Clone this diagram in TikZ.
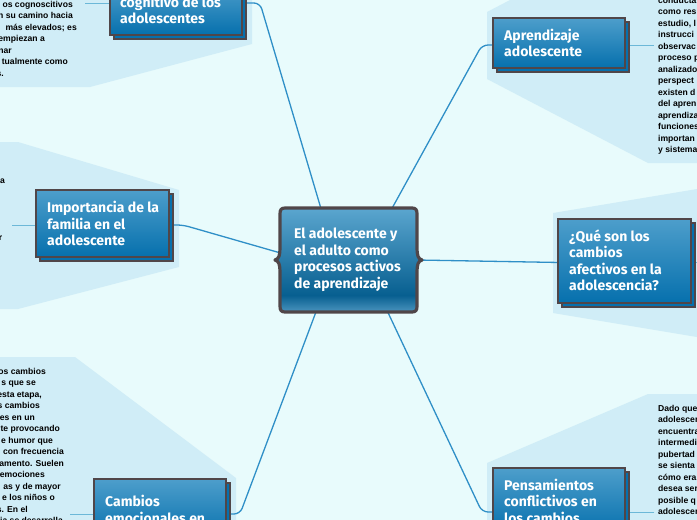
\documentclass[tikz,border=0pt]{standalone}
\usepackage{fontspec}
\setmainfont{Fira Sans}
\newfontfamily\leaffont{Liberation Sans}
\usetikzlibrary{backgrounds,shadows}
\definecolor{bgc}{HTML}{E8FBFC}
\definecolor{panelc}{HTML}{D0EDF7}
\definecolor{edgec}{HTML}{504649}
\definecolor{boxtop}{HTML}{4D9ECB}
\definecolor{boxbot}{HTML}{0670AD}
\definecolor{trunkc}{HTML}{2F8FC7}
\definecolor{leafc}{HTML}{6CB8D8}
\definecolor{rootlow}{HTML}{4A94BE}
\definecolor{rootdark}{HTML}{075F90}
\definecolor{roottop}{HTML}{5BA6CF}
\pgfdeclareverticalshading{rootshade}{100bp}{
  color(0bp)=(rootlow);
  color(25bp)=(rootlow);
  color(33bp)=(rootdark);
  color(75bp)=(roottop);
  color(100bp)=(roottop)}
\tikzset{
  panel/.style={fill=panelc,draw=none},
  trunk/.style={draw=trunkc,line width=1.3pt,rounded corners=6pt},
  leafline/.style={draw=leafc,line width=1pt},
  branchbox/.style={rectangle,inner sep=0pt,draw=edgec,line width=2pt,
    top color=boxtop,bottom color=boxbot,text=white,
    font=\bfseries\fontsize{14}{16.5}\selectfont,align=left,
    copy shadow={shadow xshift=4pt,shadow yshift=-4pt,draw=edgec,fill=boxbot,top color=boxbot,bottom color=boxbot}},
  boxtext/.style={inner sep=0pt,text=white,anchor=west,
    font=\bfseries\fontsize{14}{16.5}\selectfont,align=left},
  leaf/.style={inner sep=0pt,text=black,font=\leaffont\bfseries\fontsize{8.6}{11.5}\selectfont},
}
\begin{document}
\begin{tikzpicture}[x=1pt,y=-1pt]
\clip (0,0) rectangle (697,520);
% central shape
\path[shading=rootshade,draw=edgec,line width=3.2pt,line join=round]
  (285,208) -- (412,208) .. controls (416,208) and (417,210) .. (417,214)
  -- (417,248) .. controls (417,255) and (418,259) .. (422,260)
  .. controls (418,261) and (417,265) .. (417,272)
  -- (417,306) .. controls (417,310) and (416,312) .. (412,312)
  -- (285,312) .. controls (281,312) and (280,310) .. (280,306)
  -- (280,272) .. controls (280,265) and (279,261) .. (275,260)
  .. controls (279,259) and (280,255) .. (280,248)
  -- (280,214) .. controls (280,210) and (281,208) .. (285,208) -- cycle;
\node[inner sep=0pt,minimum width=137pt,minimum height=104pt] (root) at (348.5,260) {};
\node[boxtext] (roottxt) at (294,259.5) {El adolescente y\\el adulto como\\procesos activos\\de aprendizaje};
% branches
\node[branchbox,minimum width=132pt,minimum height=50pt] (cog) at (176,10) {};
\node[boxtext] (cogt) at (120,10) {cognitivo de los\\adolescentes};
\node[branchbox,minimum width=132pt,minimum height=50pt] (apr) at (559,43) {};
\node[boxtext] (aprt) at (504,43) {Aprendizaje\\adolescente};
\node[branchbox,minimum width=133pt,minimum height=67pt] (fam) at (102.5,223.5) {};
\node[boxtext] (famt) at (47,223.5) {Importancia de la\\familia en el\\adolescente};
\node[branchbox,minimum width=133pt,minimum height=84pt] (que) at (624.5,261) {};
\node[boxtext] (quet) at (569,260.5) {¿Qué son los\\cambios\\afectivos en la\\adolescencia?};
\node[branchbox,minimum width=132pt,minimum height=61pt] (emo) at (160,509.5) {};
\node[boxtext] (emot) at (105,509.5) {Cambios\\emocionales en};
\node[branchbox,minimum width=132pt,minimum height=66pt] (pen) at (559,501) {};
\node[boxtext] (pent) at (504,501) {Pensamientos\\conflictivos en\\los cambios};
% named bends and free ends
\coordinate (bcog) at (260,3);
\coordinate (bapr) at (482,45);
\coordinate (bfam) at (183,225);
\coordinate (bque) at (560,262.5);
\coordinate (bemo) at (240,514);
\coordinate (bpen) at (482,512);
\coordinate (lcog) at (85,3);
\coordinate (lapr) at (654,45);
\coordinate (lfam) at (12,225);
\coordinate (lque) at (700,262);
\coordinate (lemo) at (70,514);
\coordinate (lpen) at (654,512);
\begin{scope}[on background layer]
\fill[bgc] (0,0) rectangle (697,520);
\path[panel] (0,0) -- (252,0) -- (252,44) -- (90,87) -- (0,87) -- cycle;
\path[panel] (510,0) -- (697,0) -- (697,163) -- (648,163) -- (487,79) -- (487,12) -- cycle;
\path[panel] (0,142) -- (18,142) -- (179,190) -- (179,267) -- (18,309) -- (0,309) -- cycle;
\path[panel] (553,213) -- (697,189) -- (697,337) -- (553,313) -- cycle;
\path[panel] (0,357) -- (75,357) -- (236,478) -- (236,520) -- (0,520) -- cycle;
\path[panel] (487,463) -- (648,394) -- (697,394) -- (697,520) -- (487,520) -- cycle;
\draw[trunk] (root.118.7) -- (bcog) -- (bcog -| cog.east);
\draw[trunk] (root.50) -- (bapr) -- (bapr -| apr.west);
\draw[trunk] (root.174) -- (bfam) -- (bfam -| fam.east);
\draw[trunk] (root.east) -- (bque);
\draw[trunk] (root.238) -- (bemo) -- (bemo -| emo.east);
\draw[trunk] (root.307) -- (bpen) -- (bpen -| pen.west);
\draw[leafline] (lcog) -- (lcog -| cog.west);
\draw[leafline] (lapr) -- (lapr -| apr.east);
\draw[leafline] (lfam) -- (lfam -| fam.west);
\draw[leafline] (lque) -- (lque -| que.east);
\draw[leafline] (lemo) -- (lemo -| emo.west);
\draw[leafline] (lpen) -- (lpen -| pen.east);
\end{scope}
% clipped leaf texts: top left
\foreach \i/\x/\y/\s in {1/73/7/{os cognoscitivos},2/73/18.5/{n su camino hacia},3/77/30/{más elevados; es},4/45/41.5/{empiezan a},5/12/53/{nar},6/68/64.5/{tualmente como},7/4/76/{s.}}
  \node[leaf,anchor=base east] (a\i) at (\x,\y) {\s};
% family
\node[leaf,anchor=base east] (b1) at (5,183) {a};
\node[leaf,anchor=base east] (b2) at (2.5,240) {r};
% bottom left
\foreach \i/\x/\y/\s in {1/46/374/{os cambios},2/36/385.5/{s que se},3/42/397/{esta etapa,},4/40/408.5/{s cambios},5/35/420/{es en un},6/60/431.5/{te provocando},7/53/443/{e humor que},8/64/454.5/{con frecuencia},9/64/466/{amento. Suelen},10/45/477.5/{emociones},11/61/489/{as y de mayor},12/55/500.5/{e los niños o},13/28/512/{s. En el},14/63/523.5/{ia se desarrolla}}
  \node[leaf,anchor=base east] (c\i) at (\x,\y) {\s};
% right texts
\foreach \i/\y/\s in {1/3/{conducta},2/14.5/{como res},3/26/{estudio, l},4/37.5/{instrucci},5/49/{observac},6/60.5/{proceso p},7/72/{analizado},8/83.5/{perspect},9/95/{existen d},10/106.5/{del apren},11/118/{aprendiza},12/129.5/{funciones},13/141/{importan},14/152.5/{y sistema}}
  \node[leaf,anchor=base west] (d\i) at (658,\y) {\s};
\foreach \i/\y/\s in {1/411/{Dado que},2/422.5/{adolescen},3/434/{encuentra},4/445.5/{intermedi},5/457/{pubertad},6/468.5/{se sienta},7/480/{cómo era},8/491.5/{desea ser},9/503/{posible q},10/514.5/{adolescen}}
  \node[leaf,anchor=base west] (e\i) at (658,\y) {\s};
\end{tikzpicture}
\end{document}
